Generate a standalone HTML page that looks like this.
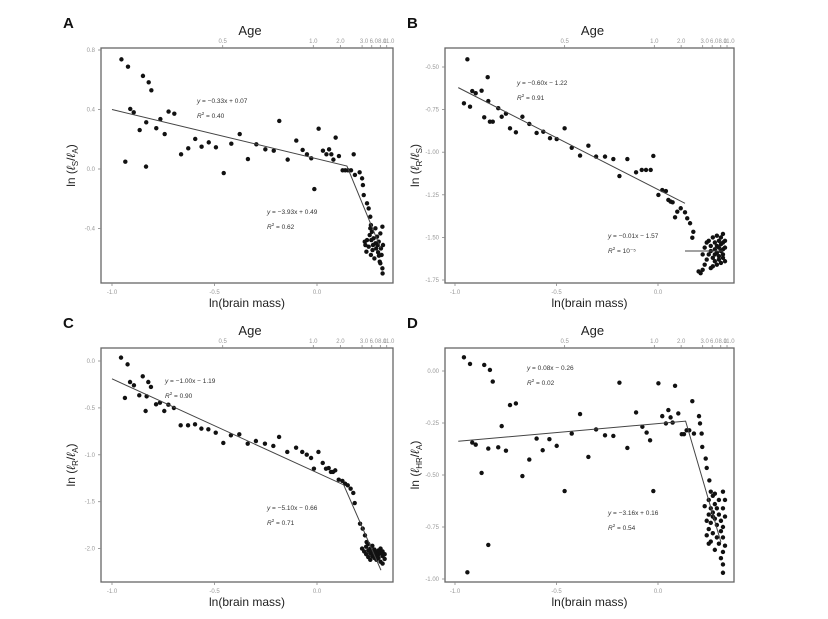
<!DOCTYPE html>
<html><head><meta charset="utf-8"><style>
html,body{margin:0;padding:0;background:#fff;}
svg{display:block;font-family:"Liberation Sans",sans-serif;}
</style></head><body>
<svg id="fig" width="828" height="619" viewBox="0 0 828 619" xmlns="http://www.w3.org/2000/svg"></svg>
<script>
// ---- Panel A data ----
const aX=[-0.954,-0.922,-0.849,-0.821,-0.808,-0.911,-0.894,-0.865,-0.833,-0.784,-0.764,-0.743,-0.724,-0.696,-0.935,-0.834,-0.663,-0.628,-0.594,-0.563,-0.528,-0.493,-0.455,-0.418,-0.377,-0.337,-0.296,-0.252,-0.211,-0.184,-0.143,-0.101,-0.070,-0.049,-0.028,-0.013,0.008,0.029,0.046,0.059,0.070,0.080,0.091,0.107,0.125,0.138,0.151,0.166,0.179,0.185,0.208,0.220,0.224,0.228,0.244,0.252,0.260,0.263,0.233,0.241,0.252,0.257,0.263,0.268,0.273,0.276,0.280,0.285,0.289,0.293,0.298,0.301,0.306,0.309,0.312,0.315,0.319,0.319,0.320,0.322,0.260,0.265,0.271,0.285,0.296,0.302,0.309,0.244,0.236];
const aY=[0.737,0.688,0.626,0.583,0.529,0.404,0.381,0.262,0.314,0.274,0.336,0.235,0.386,0.372,0.049,0.016,0.099,0.139,0.202,0.150,0.179,0.146,-0.027,0.170,0.235,0.067,0.166,0.132,0.123,0.323,0.063,0.191,0.128,0.099,0.072,-0.135,0.271,0.123,0.099,0.132,0.099,0.063,0.211,0.087,-0.009,-0.009,-0.009,-0.009,0.099,-0.040,-0.022,-0.063,-0.108,-0.175,-0.231,-0.265,-0.321,-0.377,-0.489,-0.556,-0.522,-0.444,-0.578,-0.422,-0.511,-0.466,-0.601,-0.399,-0.534,-0.455,-0.560,-0.489,-0.623,-0.433,-0.534,-0.578,-0.388,-0.668,-0.702,-0.511,-0.399,-0.478,-0.545,-0.500,-0.511,-0.583,-0.634,-0.478,-0.511];
const aLineX=[-1.0,0.146,0.31];
const aLineY=[0.40,0.02,-0.53];
const aTicks=[0.8,0.4,0.0,-0.4];
const aTickLabels=["0.8","0.4","0.0","-0.4"];
// ---- Panel B data ----
const bX=[-0.939,-0.956,-0.926,-0.915,-0.898,-0.869,-0.839,-0.836,-0.856,-0.828,-0.814,-0.787,-0.770,-0.749,-0.729,-0.700,-0.668,-0.634,-0.598,-0.565,-0.532,-0.499,-0.460,-0.425,-0.384,-0.343,-0.305,-0.261,-0.220,-0.190,-0.151,-0.108,-0.080,-0.059,-0.036,-0.023,0.002,0.021,0.039,0.051,0.062,0.072,0.084,0.095,0.112,0.133,0.144,0.158,0.174,0.169,0.20,0.21,0.22,0.23,0.24,0.25,0.25,0.26,0.26,0.27,0.27,0.27,0.28,0.28,0.28,0.28,0.29,0.29,0.29,0.29,0.30,0.30,0.30,0.30,0.31,0.31,0.31,0.31,0.32,0.32,0.32,0.32,0.32,0.33,0.33,0.33,0.23,0.22,0.24,0.26];
const bY=[-0.455,-0.713,-0.733,-0.641,-0.654,-0.639,-0.560,-0.700,-0.795,-0.821,-0.821,-0.742,-0.792,-0.774,-0.860,-0.883,-0.792,-0.834,-0.887,-0.880,-0.918,-0.923,-0.860,-0.974,-1.020,-0.962,-1.026,-1.026,-1.040,-1.140,-1.040,-1.118,-1.104,-1.104,-1.104,-1.022,-1.251,-1.222,-1.228,-1.28,-1.29,-1.294,-1.382,-1.349,-1.329,-1.353,-1.388,-1.417,-1.467,-1.502,-1.70,-1.71,-1.69,-1.66,-1.63,-1.60,-1.52,-1.55,-1.58,-1.50,-1.62,-1.67,-1.53,-1.57,-1.60,-1.64,-1.49,-1.55,-1.59,-1.66,-1.52,-1.56,-1.61,-1.63,-1.50,-1.54,-1.58,-1.65,-1.48,-1.53,-1.57,-1.60,-1.62,-1.52,-1.56,-1.64,-1.56,-1.60,-1.53,-1.68];
const bLine1X=[-0.984,0.133];
const bLine1Y=[-0.621,-1.30];
const bLine2X=[0.133,0.32];
const bLine2Y=[-1.58,-1.58];
const bTicks=[-0.5,-0.75,-1.0,-1.25,-1.5,-1.75];
const bTickLabels=["-0.50","-0.75","-1.00","-1.25","-1.50","-1.75"];
// ---- Panel C data ----
const cX=[-0.956,-0.924,-0.912,-0.893,-0.937,-0.867,-0.850,-0.831,-0.836,-0.823,-0.810,-0.785,-0.766,-0.745,-0.725,-0.698,-0.665,-0.629,-0.595,-0.564,-0.530,-0.494,-0.457,-0.420,-0.379,-0.338,-0.298,-0.254,-0.213,-0.185,-0.145,-0.102,-0.072,-0.050,-0.029,-0.015,0.007,0.028,0.044,0.057,0.068,0.078,0.089,0.106,0.124,0.137,0.150,0.164,0.177,0.184,0.210,0.223,0.234,0.242,0.22,0.23,0.24,0.24,0.25,0.25,0.26,0.26,0.27,0.27,0.28,0.28,0.28,0.29,0.29,0.29,0.30,0.30,0.30,0.31,0.31,0.31,0.32,0.32,0.32,0.33,0.33,0.26,0.27,0.25];
const cY=[0.036,-0.036,-0.224,-0.259,-0.394,-0.366,-0.163,-0.377,-0.533,-0.224,-0.277,-0.462,-0.444,-0.533,-0.466,-0.501,-0.686,-0.686,-0.675,-0.721,-0.728,-0.764,-0.874,-0.792,-0.782,-0.881,-0.853,-0.881,-0.906,-0.810,-0.970,-0.924,-0.970,-0.999,-1.034,-1.148,-0.970,-1.087,-1.148,-1.141,-1.183,-1.183,-1.166,-1.265,-1.279,-1.308,-1.325,-1.361,-1.407,-1.514,-1.734,-1.787,-1.859,-1.930,-2.00,-2.03,-1.98,-2.06,-2.02,-2.09,-2.00,-2.05,-2.08,-2.03,-2.10,-2.01,-2.06,-2.04,-2.12,-2.08,-2.02,-2.06,-2.10,-2.00,-2.05,-2.14,-2.03,-2.08,-2.16,-2.06,-2.11,-2.12,-1.97,-1.95];
const cLineX=[-1.0,0.13,0.312];
const cLineY=[-0.19,-1.32,-2.23];
const cTicks=[0.0,-0.5,-1.0,-1.5,-2.0];
const cTickLabels=["0.0","-0.5","-1.0","-1.5","-2.0"];
// ---- Panel D data ----
const dX=[-0.956,-0.926,-0.856,-0.828,-0.814,-0.729,-0.700,-0.770,-0.915,-0.898,-0.836,-0.787,-0.749,-0.869,-0.836,-0.939,-0.668,-0.634,-0.598,-0.568,-0.535,-0.499,-0.460,-0.425,-0.384,-0.343,-0.305,-0.261,-0.220,-0.190,-0.151,-0.108,-0.077,-0.056,-0.039,-0.023,0.002,0.021,0.039,0.051,0.062,0.072,0.084,0.100,0.117,0.128,0.141,0.154,0.169,0.177,0.202,0.207,0.215,0.218,0.235,0.240,0.253,0.23,0.24,0.24,0.25,0.25,0.25,0.26,0.26,0.26,0.26,0.27,0.27,0.27,0.27,0.28,0.28,0.28,0.29,0.29,0.29,0.30,0.30,0.30,0.31,0.31,0.31,0.32,0.32,0.32,0.32,0.32,0.32,0.32,0.33,0.33,0.33,0.25,0.28];
const dY=[0.066,0.034,0.029,0.005,-0.051,-0.164,-0.156,-0.265,-0.344,-0.354,-0.373,-0.367,-0.383,-0.490,-0.836,-0.968,-0.505,-0.426,-0.325,-0.381,-0.328,-0.360,-0.577,-0.301,-0.207,-0.413,-0.281,-0.309,-0.312,-0.056,-0.370,-0.199,-0.268,-0.296,-0.333,-0.577,-0.059,-0.217,-0.252,-0.188,-0.223,-0.248,-0.071,-0.204,-0.304,-0.304,-0.285,-0.285,-0.145,-0.301,-0.217,-0.252,-0.301,-0.365,-0.421,-0.466,-0.526,-0.65,-0.72,-0.79,-0.62,-0.69,-0.76,-0.58,-0.66,-0.73,-0.82,-0.60,-0.68,-0.70,-0.78,-0.64,-0.71,-0.86,-0.66,-0.74,-0.80,-0.62,-0.69,-0.83,-0.72,-0.77,-0.90,-0.58,-0.66,-0.75,-0.80,-0.87,-0.93,-0.97,-0.62,-0.70,-0.84,-0.83,-0.59];
const dLineX=[-0.984,0.136,0.31];
const dLineY=[-0.338,-0.241,-0.823];
const dTicks=[0.0,-0.25,-0.5,-0.75,-1.0];
const dTickLabels=["0.00","-0.25","-0.50","-0.75","-1.00"];
// ---- shared axis ticks ----
const xTicks=[-1.0,-0.5,0.0];
const xTickLabels=["-1.0","-0.5","0.0"];
const ageTicks=[-0.46,-0.018,0.114,0.22,0.267,0.309,0.34];
const ageLabels=["0.5","1.0","2.0","3.0","6.0","8.0","11.0"];

const NS="http://www.w3.org/2000/svg";
const fig=document.getElementById('fig');
function mk(tag,attrs,parent,text){const e=document.createElementNS(NS,tag);for(const k in attrs)e.setAttribute(k,attrs[k]);if(text!==undefined)e.textContent=text;parent.appendChild(e);return e;}

function panel(cfg){
  const g=mk('g',{},fig);
  
  
  const sx=v=>cfg.x0+v*cfg.xs;
  const sy=v=>cfg.y0-(v-cfg.yref)*cfg.ys;
  const b=cfg.box;
  const frame=mk('rect',{x:b[0],y:b[1],width:b[2]-b[0],height:b[3]-b[1],fill:'none',stroke:'#666','stroke-width':1.3},g);
  
  
  const lt=mk('text',{x:b[0]-38,y:b[1]-20,'font-size':15,'font-weight':'bold',fill:'#111'},g,cfg.id);
  
  
  // y ticks
  cfg.yt.forEach((v,i)=>{
    const y=sy(v);
    mk('line',{x1:b[0]-3,x2:b[0],y1:y,y2:y,stroke:'#888','stroke-width':0.8},g);
    const t=mk('text',{x:b[0]-6,y:y+2,'font-size':6,fill:'#999','text-anchor':'end'},g,cfg.ytl[i]);
    
    
  });
  xTicks.forEach((v,i)=>{
    const x=sx(v);
    mk('line',{x1:x,x2:x,y1:b[3],y2:b[3]+3,stroke:'#888','stroke-width':0.8},g);
    const t=mk('text',{x:x,y:b[3]+11,'font-size':6,fill:'#999','text-anchor':'middle'},g,xTickLabels[i]);
    
    
  });
  ageTicks.forEach((v,i)=>{
    const x=sx(v);
    mk('line',{x1:x,x2:x,y1:b[1]-3,y2:b[1],stroke:'#888','stroke-width':0.8},g);
    const t=mk('text',{x:x+(i>=3?2:0),y:b[1]-5,'font-size':6,fill:'#999','text-anchor':'middle'},g,ageLabels[i]);
    
    
  });
  const cx=(b[0]+b[2])/2;
  const at=mk('text',{x:cx+3,y:b[1]-13,'font-size':13,fill:'#222','text-anchor':'middle'},g,'Age');
  
  
  const xt=mk('text',{x:cx,y:b[3]+24,'font-size':12,fill:'#222','text-anchor':'middle'},g,'ln(brain mass)');
  
  
  const ymid=(b[1]+b[3])/2;
  const yt=mk('text',{x:b[0]-26,y:ymid,'font-size':12,fill:'#222','text-anchor':'middle',transform:`rotate(-90 ${b[0]-26} ${ymid})`},g);
  
  
  mk('tspan',{},yt,'ln (');
  mk('tspan',{'font-style':'italic'},yt,'ℓ');
  mk('tspan',{'font-size':8,dy:3},yt,cfg.num);
  mk('tspan',{dy:-3},yt,'/');
  mk('tspan',{'font-style':'italic'},yt,'ℓ');
  mk('tspan',{'font-size':8,dy:3},yt,cfg.den);
  mk('tspan',{dy:-3},yt,')');
  // points
  cfg.px.forEach((v,i)=>{
    const c=mk('circle',{cx:sx(v),cy:sy(cfg.py[i]),r:2.2,fill:'#111'},g);
    
    
  });
  // fit lines
  cfg.lines.forEach(L=>{
    const pts=L[0].map((v,i)=>sx(v)+','+sy(L[1][i])).join(' ');
    const pl=mk('polyline',{points:pts,fill:'none',stroke:'#444','stroke-width':1},g);
    
    
  });
  // equations
  cfg.eq.forEach(e=>{
    const t1=mk('text',{x:e[0],y:e[1],'font-size':6.5,fill:'#333'},g);
    
    
    mk('tspan',{'font-style':'italic'},t1,'y');
    mk('tspan',{},t1,e[2]);
    const t2=mk('text',{x:e[0],y:e[1]+15,'font-size':6.5,fill:'#333'},g);
    
    
    mk('tspan',{'font-style':'italic'},t2,'R');
    mk('tspan',{'font-size':4.5,dy:-3},t2,'2');
    mk('tspan',{dy:3},t2,e[3]);
  });
}

panel({id:'A',box:[101,48,393,283],x0:317,xs:205,y0:169,yref:0,ys:148.75,yt:aTicks,ytl:aTickLabels,px:aX,py:aY,num:'S',den:'A',
  lines:[[aLineX,aLineY]],eq:[[197,103,' = −0.33x + 0.07',' = 0.40'],[267,214,' = −3.93x + 0.49',' = 0.62']]});
panel({id:'B',box:[445,48,734,283],x0:658,xs:203,y0:67,yref:-0.5,ys:170.4,yt:bTicks,ytl:bTickLabels,px:bX,py:bY,num:'R',den:'S',
  lines:[[bLine1X,bLine1Y],[bLine2X,bLine2Y]],eq:[[517,85,' = −0.60x − 1.22',' = 0.91'],[608,238,' = −0.01x − 1.57',' = 10⁻⁵']]});
panel({id:'C',box:[101,348,393,582],x0:317,xs:205,y0:361,yref:0,ys:93.8,yt:cTicks,ytl:cTickLabels,px:cX,py:cY,num:'R',den:'A',
  lines:[[cLineX,cLineY]],eq:[[165,383,' = −1.00x − 1.19',' = 0.90'],[267,510,' = −5.10x − 0.66',' = 0.71']]});
panel({id:'D',box:[445,348,734,582],x0:658,xs:203,y0:371,yref:0,ys:208,yt:dTicks,ytl:dTickLabels,px:dX,py:dY,num:'HR',den:'A',
  lines:[[dLineX,dLineY]],eq:[[527,370,' = 0.08x − 0.26',' = 0.02'],[608,515,' = −3.16x + 0.16',' = 0.54']]});
</script>
</body></html>
